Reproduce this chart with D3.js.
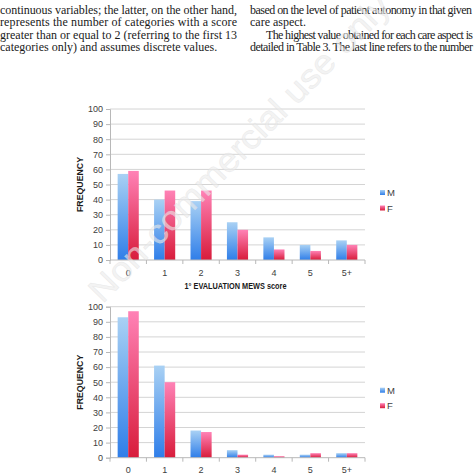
<!DOCTYPE html>
<html>
<head>
<meta charset="utf-8">
<script src="https://cdn.jsdelivr.net/npm/d3@7.9.0/dist/d3.min.js"></script>
<style>
  body { margin: 0; background: #fff; }
  svg { display: block; }
</style>
</head>
<body>
<svg id="page" width="474" height="474"></svg>
<script>
// data
const categories = ['0', '1', '2', '3', '4', '5', '5+'];
const series = ['M', 'F'];
const firstM = [57, 40, 39, 25, 15, 10, 13];
const firstF = [59, 46, 46, 20, 7, 6, 10];
const secondM = [93, 61, 18, 5, 2, 2, 3];
const secondF = [97, 50, 17, 2, 1, 3, 3];
const yTicks = [0, 10, 20, 30, 40, 50, 60, 70, 80, 90, 100];

const leftLines = [
  'continuous variables; the latter, on the other hand,',
  'represents the number of categories with a score',
  'greater than or equal to 2 (referring to the first 13',
  'categories only) and assumes discrete values.'
];
const rightLines = [
  'based on the level of patient autonomy in that given',
  'care aspect.',
  'The highest value obtained for each care aspect is',
  'detailed in Table 3. The last line refers to the number'
];

const svg = d3.select('#page');
const defs = svg.append('defs');

const gradStops = {
  M: ['#a9d1f4', '#2f7ee9'],
  F: ['#ff82b6', '#d81c3b']
};
series.forEach((s) => {
  let g = defs.append('linearGradient')
    .attr('id', 'grad-' + s)
    .attr('x1', 0).attr('y1', 0).attr('x2', 0).attr('y2', 1);
  g.append('stop').attr('offset', '0%').attr('stop-color', gradStops[s][0]);
  g.append('stop').attr('offset', '100%').attr('stop-color', gradStops[s][1]);
});

// paper text above the figure
const lineY = (i) => 13.5 + i * 12.6;
let textG = svg.append('g')
  .attr('font-family', '"Liberation Serif", "Times New Roman", serif')
  .attr('font-size', 12)
  .attr('fill', '#1a1a1a');

leftLines.forEach((t, i) => {
  let el = textG.append('text').attr('x', 0).attr('y', lineY(i)).text(t);
  if (i < 3) el.attr('textLength', 237).attr('lengthAdjust', 'spacing');
});

const rightLayout = [
  { x: 250, len: 222 },
  { x: 250, len: null },
  { x: 266, len: 207 },
  { x: 250, len: 223 }
];
rightLines.forEach((t, i) => {
  let el = textG.append('text').attr('x', rightLayout[i].x).attr('y', lineY(i)).text(t);
  if (rightLayout[i].len) el.attr('textLength', rightLayout[i].len).attr('lengthAdjust', 'spacing');
});

function drawChart(top, bottom, mValues, fValues, xTitle) {
  let g = svg.append('g');
  let left = 110, right = 365;

  let x = d3.scaleBand().domain(categories).range([left, right])
    .paddingInner(0.42).paddingOuter(0.21);
  let xs = d3.scaleBand().domain(series).range([0, x.bandwidth()]);
  let y = d3.scaleLinear().domain([0, 100]).range([bottom, top]);

  // gridlines
  g.selectAll('line.grid')
    .data(yTicks.filter((d) => d > 0))
    .join('line')
    .attr('x1', left).attr('x2', right)
    .attr('y1', (d) => y(d)).attr('y2', (d) => y(d))
    .attr('stroke', '#d4d4d4').attr('stroke-width', 1);

  // y axis
  let yAxis = d3.axisLeft(y).tickValues(yTicks).tickSize(4).tickPadding(3);
  let ya = g.append('g').attr('transform', `translate(${left},0)`).call(yAxis);
  ya.select('.domain').attr('stroke', '#b8b8b8');
  ya.selectAll('.tick line').attr('stroke', '#b8b8b8');
  ya.selectAll('.tick text')
    .attr('font-family', '"Liberation Sans", Arial, sans-serif')
    .attr('font-size', 9).attr('fill', '#404040');

  // bars
  let rows = categories.map((c, i) => ({ cat: c, M: mValues[i], F: fValues[i] }));
  let groups = g.selectAll('g.cat').data(rows).join('g')
    .attr('transform', (d) => `translate(${x(d.cat)},0)`);
  groups.selectAll('rect')
    .data((d) => series.map((s) => ({ s, v: d[s] })))
    .join('rect')
    .attr('x', (d) => xs(d.s))
    .attr('width', xs.bandwidth())
    .attr('y', (d) => y(d.v))
    .attr('height', (d) => y(0) - y(d.v))
    .attr('fill', (d) => `url(#grad-${d.s})`);

  // x axis with ticks between categories
  let step = x.step();
  let xa = g.append('g');
  xa.append('line')
    .attr('x1', left).attr('x2', right)
    .attr('y1', y(0)).attr('y2', y(0))
    .attr('stroke', '#b8b8b8');
  xa.selectAll('line.tk')
    .data(d3.range(categories.length + 1))
    .join('line')
    .attr('x1', (i) => left + i * step).attr('x2', (i) => left + i * step)
    .attr('y1', y(0)).attr('y2', y(0) + 4)
    .attr('stroke', '#b8b8b8');
  xa.selectAll('text')
    .data(categories)
    .join('text')
    .attr('x', (d) => x(d) + x.bandwidth() / 2)
    .attr('y', y(0) + 15.5)
    .attr('text-anchor', 'middle')
    .attr('font-family', '"Liberation Sans", Arial, sans-serif')
    .attr('font-size', 9).attr('fill', '#404040')
    .text((d) => d);

  // axis titles
  let mid = (top + bottom) / 2;
  g.append('text')
    .attr('transform', `translate(83,${mid}) rotate(-90)`)
    .attr('text-anchor', 'middle')
    .attr('font-family', '"Liberation Sans", Arial, sans-serif')
    .attr('font-size', 8.5).attr('font-weight', 'bold').attr('fill', '#1a1a1a')
    .attr('textLength', 55).attr('lengthAdjust', 'spacingAndGlyphs')
    .text('FREQUENCY');

  if (xTitle) {
    g.append('text')
      .attr('x', (left + right) / 2 - 2).attr('y', bottom + 29)
      .attr('text-anchor', 'middle')
      .attr('font-family', '"Liberation Sans", Arial, sans-serif')
      .attr('font-size', 8.5).attr('font-weight', 'bold').attr('fill', '#1a1a1a')
      .attr('textLength', 102).attr('lengthAdjust', 'spacingAndGlyphs')
      .text(xTitle);
  }

  // legend
  let lg = g.selectAll('g.leg').data(series).join('g')
    .attr('transform', (d, i) => `translate(380,${mid + 8 + i * 15.5})`);
  lg.append('rect')
    .attr('x', 0).attr('y', -2.5).attr('width', 5).attr('height', 5)
    .attr('fill', (d) => `url(#grad-${d})`);
  lg.append('text')
    .attr('x', 7).attr('y', 3.5)
    .attr('font-family', '"Liberation Sans", Arial, sans-serif')
    .attr('font-size', 9.5).attr('fill', '#404040')
    .text((d) => d);
}

drawChart(109, 260, firstM, firstF, '1\u00B0 EVALUATION MEWS score');
drawChart(306.7, 457.7, secondM, secondF, null);

// watermark across the page
svg.append('text')
  .attr('transform', 'translate(241,150) rotate(-45.6)')
  .attr('text-anchor', 'middle')
  .attr('dominant-baseline', 'middle')
  .attr('font-family', '"Liberation Sans", Arial, sans-serif')
  .attr('font-size', 34)
  .attr('textLength', 414).attr('lengthAdjust', 'spacingAndGlyphs')
  .attr('fill', '#ececec').attr('fill-opacity', 0.6)
  .attr('stroke', '#dadada').attr('stroke-opacity', 0.5).attr('stroke-width', 0.5)
  .text('Non-commercial use only');
</script>
</body>
</html>
